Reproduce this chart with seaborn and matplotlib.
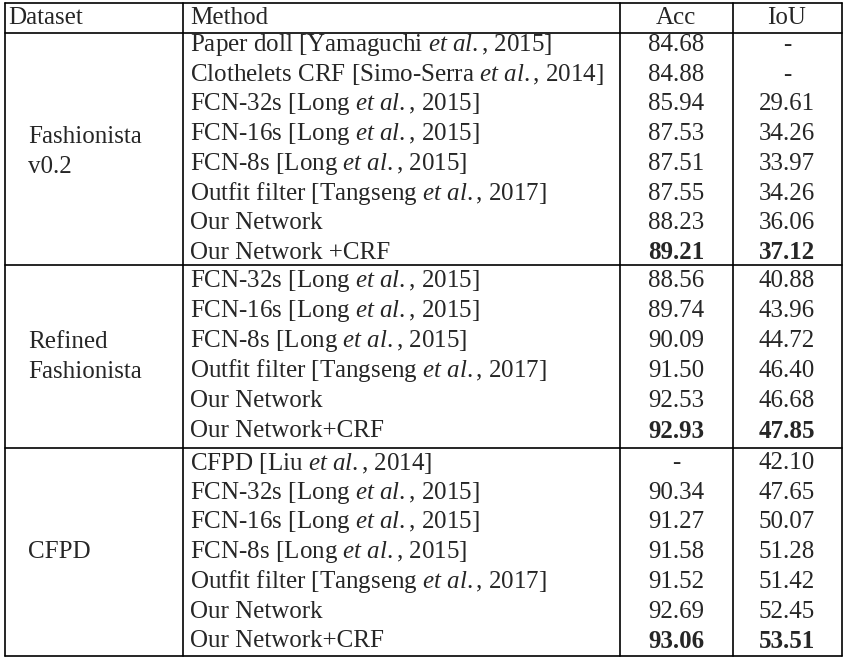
import matplotlib
matplotlib.use("Agg")
import matplotlib.pyplot as plt
import seaborn as sns

sns.set_theme(style="white")
plt.rcParams['font.family'] = ['Liberation Serif', 'DejaVu Serif']
plt.rcParams['mathtext.fontset'] = 'custom'
plt.rcParams['mathtext.rm'] = 'Liberation Serif'
plt.rcParams['mathtext.it'] = 'Liberation Serif:italic'

ET = r"$\it{et\ al.}\mathrm{,}$"
datasets = ["Fashionista\nv0.2", "Refined\nFashionista", "CFPD"]
methods = [
    ["Paper doll [Yamaguchi " + ET + " 2015]", "Clothelets CRF [Simo-Serra " + ET + " 2014]",
     "FCN-32s [Long " + ET + " 2015]", "FCN-16s [Long " + ET + " 2015]", "FCN-8s [Long " + ET + " 2015]",
     "Outfit filter [Tangseng " + ET + " 2017]", "Our Network", "Our Network +CRF"],
    ["FCN-32s [Long " + ET + " 2015]", "FCN-16s [Long " + ET + " 2015]", "FCN-8s [Long " + ET + " 2015]",
     "Outfit filter [Tangseng " + ET + " 2017]", "Our Network", "Our Network+CRF"],
    ["CFPD [Liu " + ET + " 2014]", "FCN-32s [Long " + ET + " 2015]", "FCN-16s [Long " + ET + " 2015]",
     "FCN-8s [Long " + ET + " 2015]", "Outfit filter [Tangseng " + ET + " 2017]", "Our Network", "Our Network+CRF"],
]
acc = [["84.68", "84.88", "85.94", "87.53", "87.51", "87.55", "88.23", "89.21"],
       ["88.56", "89.74", "90.09", "91.50", "92.53", "92.93"],
       ["-", "90.34", "91.27", "91.58", "91.52", "92.69", "93.06"]]
iou = [["-", "-", "29.61", "34.26", "33.97", "34.26", "36.06", "37.12"],
       ["40.88", "43.96", "44.72", "46.40", "46.68", "47.85"],
       ["42.10", "47.65", "50.07", "51.28", "51.42", "52.45", "53.51"]]

fig = plt.figure(figsize=(8.46, 6.59), dpi=100)
ax = fig.add_axes([0, 0, 1, 1])
ax.set_xlim(0, 846); ax.set_ylim(659, 0); ax.axis("off")
fs = 18
lw = 1.2
vx = [5, 183, 620, 733, 842]
for x in vx:
    ax.plot([x, x], [3, 656], color="black", lw=lw)
for y in [3, 33, 265, 448, 656]:
    ax.plot([5, 842], [y, y], color="black", lw=lw)

ax.text(8, 18, "Dataset", fontsize=fs, va="center")
ax.text(190, 18, "Method", fontsize=fs, va="center")
ax.text(676, 18, "Acc", fontsize=fs, va="center", ha="center")
ax.text(787, 18, "IoU", fontsize=fs, va="center", ha="center")

first = [45, 281, 463]
sps = [29.7, 30.0, 29.7]
label_y = [152, 357, 552]
for g in range(3):
    n = len(methods[g])
    for i in range(n):
        yc = first[g] + sps[g] * i
        bold = "bold" if i == n - 1 else "normal"
        ax.text(190, yc, methods[g][i], fontsize=fs, va="center")
        ax.text(676, yc, acc[g][i], fontsize=fs, va="center", ha="center", weight=bold)
        ax.text(787, yc, iou[g][i], fontsize=fs, va="center", ha="center", weight=bold)
    ax.text(28, label_y[g], datasets[g], fontsize=fs, va="center", linespacing=1.45)

fig.savefig("out.png", dpi=100)
